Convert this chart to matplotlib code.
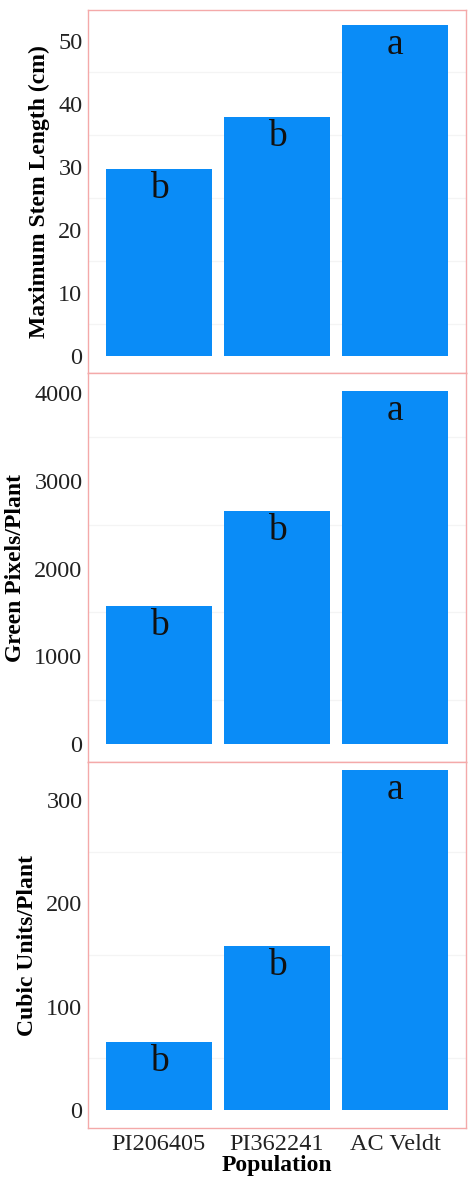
import matplotlib
matplotlib.use('Agg')
import numpy as np
import matplotlib.pyplot as plt
from matplotlib.ticker import MultipleLocator

#---------------------------------
# データ
#---------------------------------
populations = ['PI206405', 'PI362241', 'AC Veldt']
stem_length = [29.7, 37.9, 52.5]
green_pixels = [1573, 2655, 4023]
cubic_units = [65.8, 158.8, 329.0]
letters_stem = ['b', 'b', 'a']
letters_pixels = ['b', 'b', 'a']
letters_cubic = ['b', 'b', 'a']

#---------------------------------
# 描画
#---------------------------------
plt.rcParams['font.family'] = ['Liberation Serif', 'DejaVu Serif']

BAR_COLOR = '#0A8CF7'
BORDER_COLOR = '#F4A9A9'
GRID_COLOR = '#F4F4F4'

fig = plt.figure(figsize=(4.74, 11.86), dpi=100)

panels = [
	# (bottom, height, values, letters, ylabel, ylim, major)
	(0.6855, 0.3061, stem_length, letters_stem, 'Maximum Stem Length (cm)', (-2.7, 54.9), 10),
	(0.3575, 0.3280, green_pixels, letters_pixels, 'Green Pixels/Plant', (-205, 4228), 1000),
	(0.0489, 0.3086, cubic_units, letters_cubic, 'Cubic Units/Plant', (-17.4, 336.9), 100),
]

x = np.arange(1, len(populations) + 1)

for i, (bottom, height, values, letters, ylabel, ylim, major) in enumerate(panels):
	ax = fig.add_axes([0.1857, bottom, 0.7975, height])
	ax.bar(x, values, width=0.9, color=BAR_COLOR, zorder=2)
	for xi, v, lab in zip(x, values, letters):
		ax.annotate(lab, xy=(xi, v), xytext=(0, -2), textcoords='offset points',
				ha='center', va='top', fontsize=27, color='#111111', zorder=3)
	ax.set_xlim(0.4, 3.6)
	ax.set_ylim(*ylim)
	ax.yaxis.set_major_locator(MultipleLocator(major))
	ax.grid(False)
	# 中間の目盛り線だけ薄く描く
	for yv in np.arange(major / 2, ylim[1], major):
		ax.axhline(yv, color=GRID_COLOR, lw=0.9, zorder=1)
	ax.tick_params(axis='both', which='both', length=0, labelsize=17.5, colors='#222222', pad=4)
	for spine in ax.spines.values():
		spine.set_color(BORDER_COLOR)
		spine.set_linewidth(1.0)
	ax.set_ylabel(ylabel, fontsize=17, fontweight='bold', labelpad=6)
	ax.set_xticks(x)
	if i == len(panels) - 1:
		ax.set_xticklabels(populations)
		ax.set_xlabel('Population', fontsize=17, fontweight='bold', labelpad=0)
	else:
		ax.set_xticklabels([])

fig.savefig('out.png', dpi=100)
